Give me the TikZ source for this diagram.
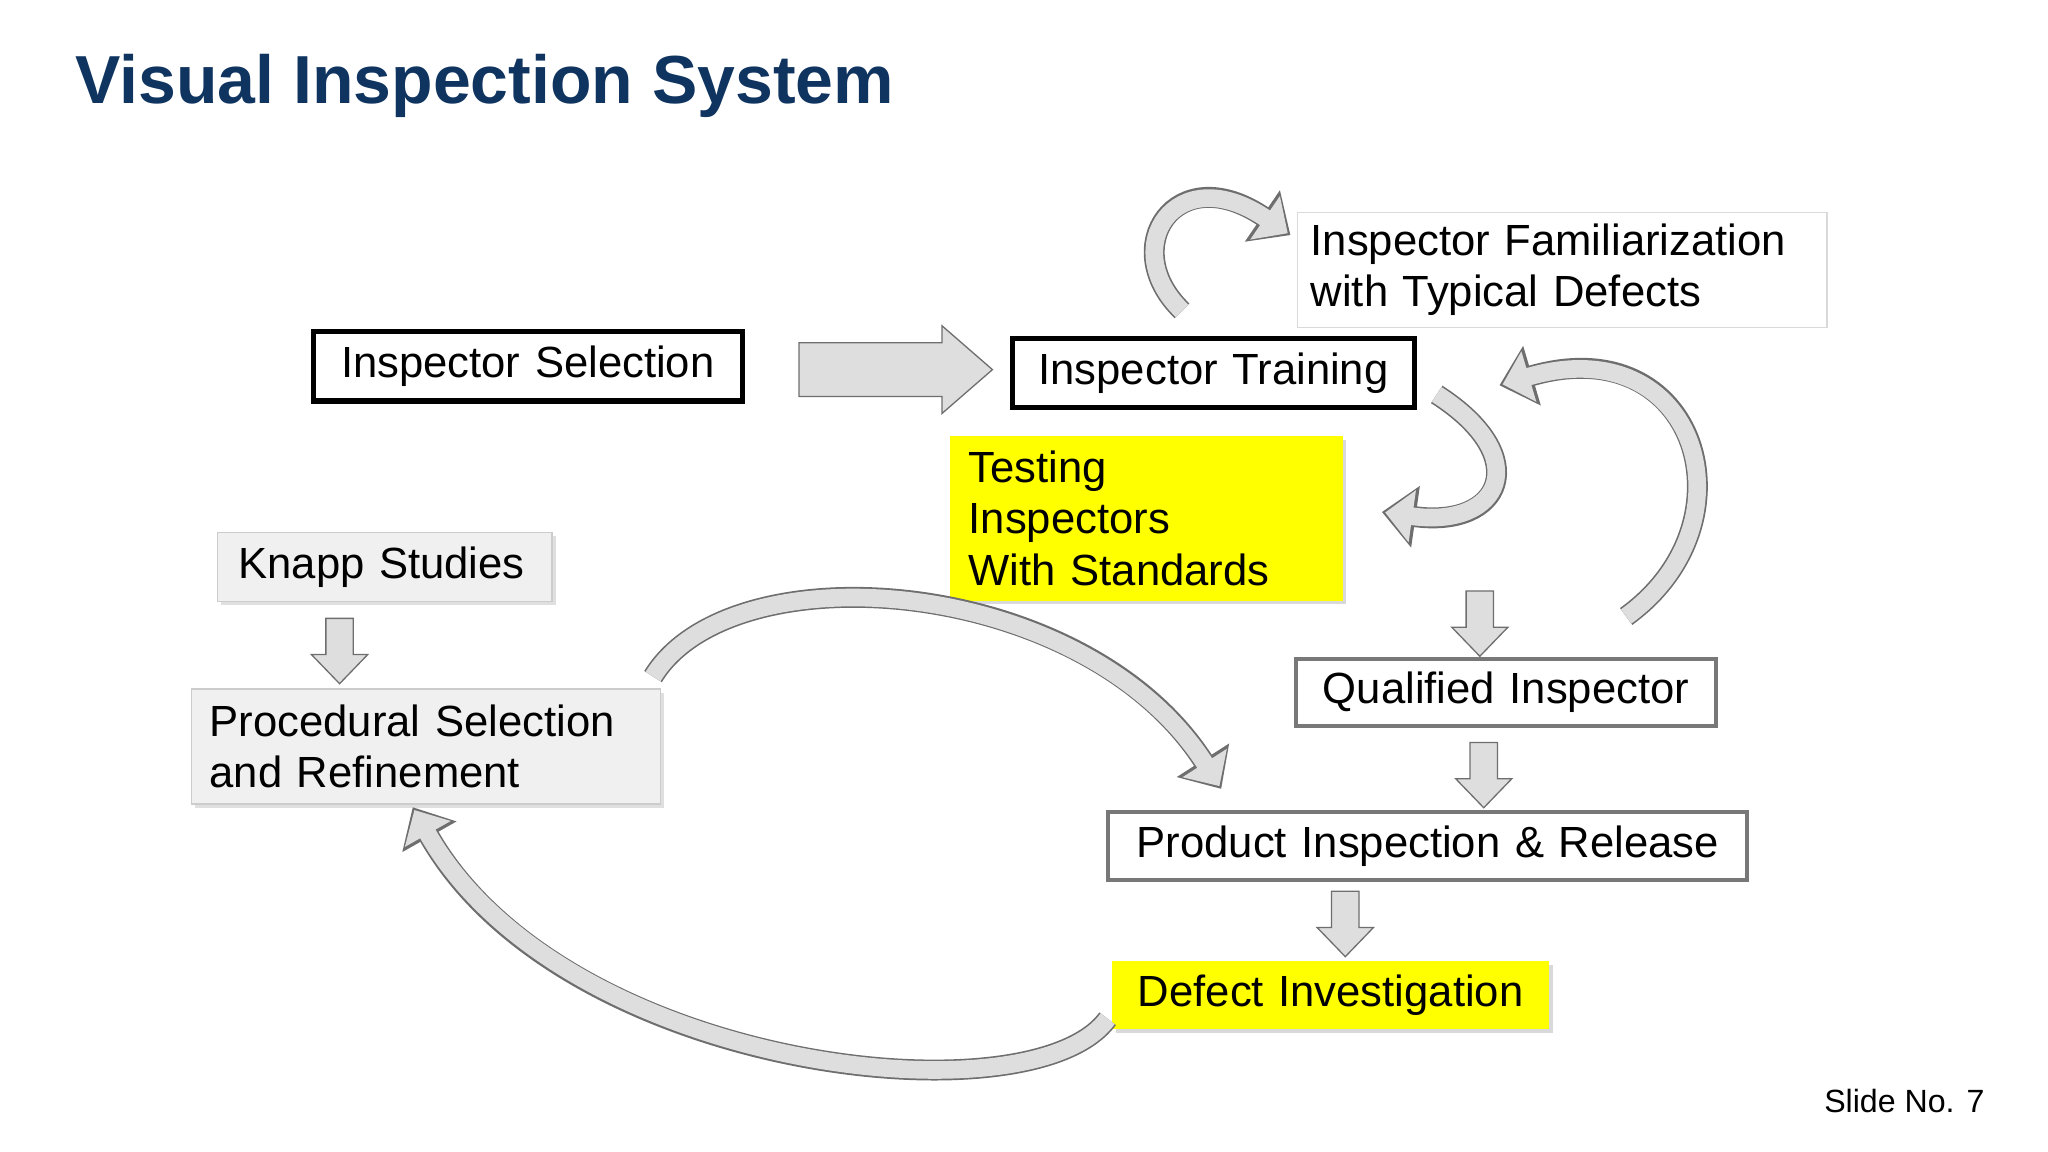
\documentclass[tikz,border=0pt]{standalone}
\usepackage{fontspec}
\setmainfont{Liberation Sans}
\usetikzlibrary{positioning, shapes.arrows, arrows.meta, shadows}
\definecolor{titleblue}{RGB}{16,52,96}
\definecolor{boxgray}{RGB}{120,120,120}
\definecolor{arrowfill}{RGB}{222,222,222}
\definecolor{arrowline}{RGB}{110,110,110}
\definecolor{hiyellow}{RGB}{255,255,0}

\begin{document}
\begin{tikzpicture}[x=0.01cm,y=-0.01cm,
  every node/.style={font=\fontsize{9.5}{11.2}\selectfont, inner sep=0pt},
  blackbox/.style={draw=black, line width=0.4mm, fill=white, align=left, anchor=north west},
  graybox/.style={draw=boxgray, line width=0.3mm, fill=white, align=left, anchor=north west},
  softbox/.style={draw=black!20, line width=0.1mm, fill=black!6, align=left, anchor=north west,
    drop shadow={opacity=0.25, shadow xshift=0.3mm, shadow yshift=-0.3mm}},
  yellowbox/.style={fill=hiyellow, align=left, anchor=north west,
    drop shadow={opacity=0.3, shadow xshift=0.3mm, shadow yshift=-0.3mm}},
  downarrow/.style={single arrow, draw=arrowline, fill=arrowfill, line width=0.1mm, rotate=-90,
    minimum height=5mm, inner sep=0pt, single arrow head extend=1.1mm, single arrow tip angle=88},
  fatcurve/.style={line width=1.6mm, draw=arrowline, -{Triangle[length=2.6mm,width=4.6mm]}},
  fatcurvein/.style={line width=1.35mm, draw=arrowfill, -{Triangle[length=2.1mm,width=3.9mm]}, shorten >=0.25mm}]

\useasboundingbox (0,0) rectangle (1568,882);

\node[anchor=west, font=\fontsize{14.8}{18}\selectfont\bfseries, text=titleblue] (title) at (57,66) {Visual Inspection System};
\node[anchor=west, font=\fontsize{7}{8}\selectfont] (slide) at (1396,843) {Slide No. 7};

% boxes
\node[blackbox, minimum width=32.8mm, minimum height=5.3mm, text width=31.2mm, inner xsep=0.8mm, align=center] (sel) at (238,252) {Inspector Selection};
\node[blackbox, minimum width=30.8mm, minimum height=5.3mm, text width=29.2mm, inner xsep=0.8mm, align=center] (train) at (773,257) {Inspector Training};
\node[draw=black!15, fill=white, line width=0.1mm, align=left, anchor=north west, minimum height=8.8mm,
      text width=38.5mm, inner xsep=1mm] (fam) at (993,162) {Inspector Familiarization\\with Typical Defects};
\node[yellowbox, minimum height=12.6mm, text width=27.2mm, inner xsep=1.4mm] (test) at (727,333)
  {Testing\\Inspectors\\With Standards};
\node[softbox, minimum height=5.3mm, text width=22.4mm, inner xsep=1.6mm] (knapp) at (166,407) {Knapp Studies};
\node[softbox, minimum height=8.8mm, text width=33.1mm, inner xsep=1.4mm] (proc) at (146,527)
  {Procedural Selection\\and Refinement};
\node[graybox, minimum height=5.1mm, text width=30.5mm, inner xsep=0.8mm, align=center] (qual) at (991,503) {Qualified Inspector};
\node[graybox, minimum height=5.2mm, text width=47.3mm, inner xsep=0.8mm, align=center] (prod) at (847,620) {Product Inspection \& Release};
\node[yellowbox, minimum height=5.2mm, text width=31.8mm, inner xsep=0.8mm, align=center] (defect) at (851,735) {Defect Investigation};

% straight block arrows
\node[single arrow, draw=arrowline, fill=arrowfill, line width=0.1mm, minimum height=14.8mm, inner sep=0pt,
  single arrow head extend=1.3mm, single arrow tip angle=82] (selarrow) at (674,283) {\rule{0pt}{4mm}};
\node[downarrow] (ar1) at (1133,472) {\rule{0pt}{2mm}};
\node[downarrow] (ar2) at (1136,588) {\rule{0pt}{2mm}};
\node[downarrow] (ar3) at (1030,702) {\rule{0pt}{2mm}};
\node[downarrow] (ar4) at (260,493) {\rule{0pt}{2mm}};

% curved arrows
\coordinate (famin) at (988,180);
\coordinate (famout) at (905,238);
\coordinate (trainout) at (1100,302);
\coordinate (testin) at (1058,392);
\coordinate (loopout) at (1245,472);
\coordinate (loopin) at (1148,295);
\coordinate (procout) at (500,518);
\coordinate (prodin) at (935,604);
\coordinate (defout) at (848,780);
\coordinate (procin) at (316,618);

\foreach \s in {fatcurve, fatcurvein} {
  \draw[\s] (famout) .. controls (855,190) and (900,120) .. (famin);
  \draw[\s] (trainout) .. controls (1175,350) and (1150,405) .. (testin);
  \draw[\s] (loopout) .. controls (1345,400) and (1300,250) .. (loopin);
  \draw[\s] (procout) .. controls (560,420) and (830,440) .. (prodin);
  \draw[\s] (defout) .. controls (790,860) and (430,820) .. (procin);
}
\end{tikzpicture}
\end{document}
